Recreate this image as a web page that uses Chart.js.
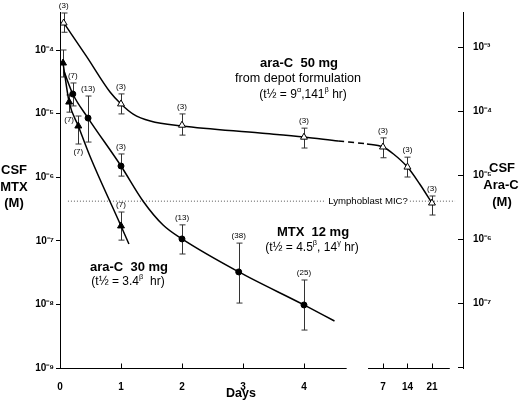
<!DOCTYPE html>
<html>
<head>
<meta charset="utf-8">
<script src="https://cdn.jsdelivr.net/npm/chart.js@4.4.1/dist/chart.umd.min.js"></script>
<style>
  html, body { margin: 0; padding: 0; background: #fff; }
</style>
</head>
<body>
<canvas id="csfChart" width="520" height="404"></canvas>
<script>
// --- values ---

// ara-C 50 mg depot formulation (open triangles, CSF Ara-C axis)
const ara50Days = [0.06, 1, 2, 4, 7, 14, 21];
const ara50Vals = [2.37e-3, 1.29e-4, 6.0e-5, 3.9e-5, 2.74e-5, 1.33e-5, 3.65e-6];
const ara50Lo   = [1.7e-3, 9.0e-5, 4.2e-5, 2.64e-5, 1.86e-5, 9.3e-6, 2.37e-6];
const ara50Hi   = [3.4e-3, 1.85e-4, 9.0e-5, 5.4e-5, 3.8e-5, 1.9e-5, 4.7e-6];
const ara50N    = ['(3)', '(3)', '(3)', '(3)', '(3)', '(3)', '(3)'];
// fitted curve
const ara50FitDays = [0.06, 0.44, 0.82, 1, 1.2, 1.48, 2, 3.28, 4, 4.56, 5.22, 7, 10, 14, 17.5, 21];
const ara50FitVals = [2.4e-3, 7.0e-4, 1.98e-4, 1.29e-4, 8.97e-5, 6.98e-5, 5.83e-5, 4.53e-5,
                      3.92e-5, 3.40e-5, 3.05e-5, 2.74e-5, 2.13e-5, 1.33e-5, 7.24e-6, 3.65e-6];
const ara50DashFrom = 9; // segment drawn dashed

// MTX 12 mg (filled circles, CSF MTX axis)
const mtxDays = [0.21, 0.46, 1, 2, 2.93, 4];
const mtxVals = [2.03e-5, 8.5e-6, 1.5e-6, 1.07e-7, 3.24e-8, 9.8e-9];
const mtxLo   = [1.32e-5, 3.57e-6, 1.04e-6, 6.2e-8, 1.05e-8, 3.95e-9];
const mtxHi   = [3.03e-5, 1.89e-5, 2.32e-6, 1.78e-7, 9.2e-8, 2.42e-8];
const mtxN    = ['(7)', '(13)', '(3)', '(13)', '(38)', '(25)'];
const mtxFitDays = [0.07, 0.21, 0.46, 1, 1.36, 1.69, 2, 2.93, 4, 4.5];
const mtxFitVals = [4.5e-5, 2.03e-5, 8.5e-6, 1.5e-6, 4.23e-7, 1.77e-7, 1.07e-7, 3.24e-8, 9.8e-9, 5.48e-9];

// ara-C 30 mg (filled triangles, CSF Ara-C axis)
const ara30Days = [0.05, 0.15, 0.3, 1];
const ara30Vals = [5.62e-4, 1.38e-4, 5.83e-5, 1.6e-6];
const ara30Lo   = [3.4e-4, 9.6e-5, 3.05e-5, 9.6e-7];
const ara30Hi   = [8.98e-4, 1.78e-4, 8.35e-5, 2.64e-6];
const ara30N    = ['', '(7)', '(7)', '(7)'];
const ara30Side = ['up', 'down', 'down', 'up'];
const ara30FitDays = [0.05, 0.15, 0.3, 0.49, 1, 1.13];
const ara30FitVals = [5.62e-4, 1.38e-4, 5.83e-5, 1.98e-5, 1.6e-6, 8.35e-7];

// lymphoblast MIC (dotted line, CSF MTX axis), gap where the label sits
const micDays = [0.13, 4.36, 9, 14.7, 27.6];
const micVals = [4.2e-7, 4.2e-7, null, 4.2e-7, 4.2e-7];

// axes
const xTickDays   = [0, 1, 2, 3, 4, 7, 14, 21];
const xTickLabels = ['0', '1', '2', '3', '4', '7', '14', '21'];
const leftTicks   = [1e-4, 1e-5, 1e-6, 1e-7, 1e-8, 1e-9];
const rightTicks  = [1e-3, 1e-4, 1e-5, 1e-6, 1e-7, 1e-8];

// broken day axis: day -> position on the linear axis
const breakDays = [0, 5, 7, 21];
const breakPos  = [0, 5, 5.295, 6.098];
const axisPieces = [[0, 4.7], [5.34, 26.1]];

function toAxis(day) {
  for (let i = 1; i < breakDays.length; i++) {
    if (day <= breakDays[i] || i === breakDays.length - 1) {
      const t = (day - breakDays[i - 1]) / (breakDays[i] - breakDays[i - 1]);
      return breakPos[i - 1] + t * (breakPos[i] - breakPos[i - 1]);
    }
  }
}

function pts(days, vals) {
  return days.map((d, i) => ({ x: toAxis(d), y: vals[i] }));
}

const SUP = { '-': '\u207B', '0': '\u2070', '1': '\u00B9', '2': '\u00B2', '3': '\u00B3',
  '4': '\u2074', '5': '\u2075', '6': '\u2076', '7': '\u2077', '8': '\u2078', '9': '\u2079' };
function powLabel(v) {
  const e = String(Math.round(Math.log10(v)));
  return '10' + e.split('').map(c => SUP[c]).join('');
}

const FONT = "'Liberation Sans', Arial, Helvetica, sans-serif";
Chart.defaults.font.family = FONT;
Chart.defaults.color = '#000';

// text drawn with small raised parts (greek exponents)
function drawRich(ctx, parts, cx, cy, size, bold) {
  const w = bold ? 'bold ' : '';
  let total = 0;
  parts.forEach(p => {
    ctx.font = w + (p[1] ? size * 0.62 : size) + 'px ' + FONT;
    total += ctx.measureText(p[0]).width;
  });
  let x = cx - total / 2;
  ctx.textAlign = 'left';
  ctx.textBaseline = 'middle';
  parts.forEach(p => {
    ctx.font = w + (p[1] ? size * 0.62 : size) + 'px ' + FONT;
    ctx.fillText(p[0], x, p[1] ? cy - size * 0.38 : cy);
    x += ctx.measureText(p[0]).width;
  });
}

const notes = [
  { parts: [['ara-C  50 mg']], x: 299, y: 63, size: 13, bold: true },
  { parts: [['from depot formulation']], x: 298, y: 79, size: 12.6 },
  { parts: [['(t\u00BD = 9'], ['\u03B1', 1], [',141'], ['\u03B2', 1], [' hr)']], x: 303, y: 95, size: 12 },
  { parts: [['MTX  12 mg']], x: 313, y: 232, size: 13, bold: true },
  { parts: [['(t\u00BD = 4.5'], ['\u03B2', 1], [', 14'], ['\u03B3', 1], [' hr)']], x: 312, y: 248, size: 12 },
  { parts: [['ara-C  30 mg']], x: 129, y: 267, size: 13, bold: true },
  { parts: [['(t\u00BD = 3.4'], ['\u03B2', 1], ['  hr)']], x: 128, y: 282, size: 12 },
  { parts: [['Lymphoblast MIC?']], x: 368, y: 201, size: 9.6 },
  { parts: [['Days']], x: 241, y: 394, size: 12.5, bold: true },
  { parts: [['CSF']], x: 14, y: 170, size: 13, bold: true },
  { parts: [['MTX']], x: 14, y: 187, size: 13, bold: true },
  { parts: [['(M)']], x: 14, y: 203, size: 13, bold: true },
  { parts: [['CSF']], x: 502, y: 168, size: 13, bold: true },
  { parts: [['Ara-C']], x: 501, y: 185, size: 13, bold: true },
  { parts: [['(M)']], x: 502, y: 202, size: 13, bold: true }
];

// error bars, n labels, broken axis, inward ticks and texts
const figureExtras = {
  id: 'figureExtras',
  beforeDatasetsDraw(chart) {
    const ctx = chart.ctx;
    const xs = chart.scales.x;
    ctx.save();
    ctx.strokeStyle = '#333';
    ctx.lineWidth = 1;
    chart.data.datasets.forEach(ds => {
      if (!ds.errLo) return;
      const ys = chart.scales[ds.yAxisID];
      ds.data.forEach((p, j) => {
        const px = Math.round(xs.getPixelForValue(p.x)) + 0.5;
        const yt = ys.getPixelForValue(ds.errHi[j]);
        const yb = ys.getPixelForValue(ds.errLo[j]);
        ctx.beginPath();
        ctx.moveTo(px, yt); ctx.lineTo(px, yb);
        ctx.moveTo(px - 3, yt); ctx.lineTo(px + 3, yt);
        ctx.moveTo(px - 3, yb); ctx.lineTo(px + 3, yb);
        ctx.stroke();
      });
    });
    ctx.restore();
  },
  afterDraw(chart) {
    const ctx = chart.ctx;
    const xs = chart.scales.x;
    const y2 = chart.scales.y2;
    const area = chart.chartArea;
    ctx.save();
    ctx.fillStyle = '#000';
    ctx.strokeStyle = '#000';
    ctx.lineWidth = 1;

    // n labels
    chart.data.datasets.forEach(ds => {
      if (!ds.nLabels) return;
      const ys = chart.scales[ds.yAxisID];
      ctx.font = '8px ' + FONT;
      ctx.textAlign = 'center';
      ctx.textBaseline = 'middle';
      ds.data.forEach((p, j) => {
        const txt = ds.nLabels[j];
        if (!txt) return;
        const px = xs.getPixelForValue(p.x);
        const side = ds.nSide ? ds.nSide[j] : 'up';
        const py = side === 'up' ? ys.getPixelForValue(ds.errHi[j]) - 7
                                 : ys.getPixelForValue(ds.errLo[j]) + 8;
        ctx.fillText(txt, px, py);
      });
    });

    // broken x axis line with inward ticks
    const yb = Math.round(area.bottom) + 0.5;
    ctx.beginPath();
    axisPieces.forEach(seg => {
      ctx.moveTo(xs.getPixelForValue(toAxis(seg[0])), yb);
      ctx.lineTo(xs.getPixelForValue(toAxis(seg[1])), yb);
    });
    xTickDays.forEach(d => {
      const px = Math.round(xs.getPixelForValue(toAxis(d))) + 0.5;
      ctx.moveTo(px, yb); ctx.lineTo(px, yb - 5);
    });
    // inward ticks of the right axis
    rightTicks.forEach(v => {
      const py = Math.round(y2.getPixelForValue(v)) + 0.5;
      ctx.moveTo(area.right, py); ctx.lineTo(area.right - 5, py);
    });
    ctx.stroke();

    notes.forEach(n => drawRich(ctx, n.parts.map(p => [p[0], p[1] || 0]), n.x, n.y, n.size, n.bold));
    ctx.restore();
  }
};

new Chart(document.getElementById('csfChart'), {
  type: 'line',
  data: {
    datasets: [
      {
        label: 'ara-C 50 mg',
        data: pts(ara50Days, ara50Vals),
        yAxisID: 'y2',
        showLine: false,
        pointStyle: 'triangle',
        pointRadius: 4,
        pointBackgroundColor: '#fff',
        pointBorderColor: '#000',
        pointBorderWidth: 1,
        errLo: ara50Lo, errHi: ara50Hi, nLabels: ara50N
      },
      {
        label: 'MTX 12 mg',
        data: pts(mtxDays, mtxVals),
        yAxisID: 'y',
        showLine: false,
        pointStyle: 'circle',
        pointRadius: 3,
        pointBackgroundColor: '#000',
        pointBorderColor: '#000',
        errLo: mtxLo, errHi: mtxHi, nLabels: mtxN
      },
      {
        label: 'ara-C 30 mg',
        data: pts(ara30Days, ara30Vals),
        yAxisID: 'y2',
        showLine: false,
        pointStyle: 'triangle',
        pointRadius: 4,
        pointBackgroundColor: '#000',
        pointBorderColor: '#000',
        errLo: ara30Lo, errHi: ara30Hi, nLabels: ara30N, nSide: ara30Side
      },
      {
        label: 'ara-C 50 mg fit',
        data: pts(ara50FitDays, ara50FitVals),
        yAxisID: 'y2',
        borderColor: '#000',
        borderWidth: 1.5,
        pointRadius: 0,
        cubicInterpolationMode: 'monotone',
        segment: { borderDash: c => c.p0DataIndex === ara50DashFrom ? [6, 4] : undefined }
      },
      {
        label: 'MTX fit',
        data: pts(mtxFitDays, mtxFitVals),
        yAxisID: 'y',
        borderColor: '#000',
        borderWidth: 1.5,
        pointRadius: 0,
        cubicInterpolationMode: 'monotone'
      },
      {
        label: 'ara-C 30 mg fit',
        data: pts(ara30FitDays, ara30FitVals),
        yAxisID: 'y2',
        borderColor: '#000',
        borderWidth: 1.5,
        pointRadius: 0,
        cubicInterpolationMode: 'monotone'
      },
      {
        label: 'Lymphoblast MIC?',
        data: pts(micDays, micVals),
        yAxisID: 'y',
        borderColor: '#555',
        borderWidth: 1,
        borderDash: [1, 2],
        pointRadius: 0,
        spanGaps: false
      }
    ]
  },
  options: {
    responsive: false,
    animation: false,
    events: [],
    layout: { padding: { top: 12, left: 0, right: 0, bottom: 0 } },
    plugins: { legend: { display: false }, tooltip: { enabled: false } },
    scales: {
      x: {
        type: 'linear',
        min: 0,
        max: 6.607,
        grid: { display: false },
        border: { display: false },
        afterBuildTicks: s => { s.ticks = xTickDays.map(d => ({ value: toAxis(d) })); },
        afterFit: s => { s.height = 36; },
        ticks: {
          autoSkip: false,
          maxRotation: 0,
          padding: 5,
          font: { size: 10, weight: 'bold' },
          callback: (v, i) => xTickLabels[i]
        }
      },
      y: {
        type: 'logarithmic',
        position: 'left',
        min: 1e-9,
        max: Math.pow(10, -3.4025),
        grid: { drawOnChartArea: false, tickLength: 4, color: '#000' },
        border: { display: true, color: '#000', width: 1 },
        afterBuildTicks: s => { s.ticks = leftTicks.map(v => ({ value: v })); },
        afterFit: s => { s.width = 60; },
        ticks: {
          autoSkip: false,
          padding: 2,
          font: { size: 10, weight: 'bold' },
          callback: v => powLabel(v)
        }
      },
      y2: {
        type: 'logarithmic',
        position: 'right',
        min: Math.pow(10, -8.0156),
        max: Math.pow(10, -2.453),
        grid: { display: false },
        border: { display: true, color: '#000', width: 1 },
        afterBuildTicks: s => { s.ticks = rightTicks.map(v => ({ value: v })); },
        afterFit: s => { s.width = 57; },
        ticks: {
          autoSkip: false,
          padding: 2,
          font: { size: 10, weight: 'bold' },
          callback: v => (v < 2e-8 ? '' : powLabel(v))
        }
      }
    }
  },
  plugins: [figureExtras]
});
</script>
</body>
</html>
